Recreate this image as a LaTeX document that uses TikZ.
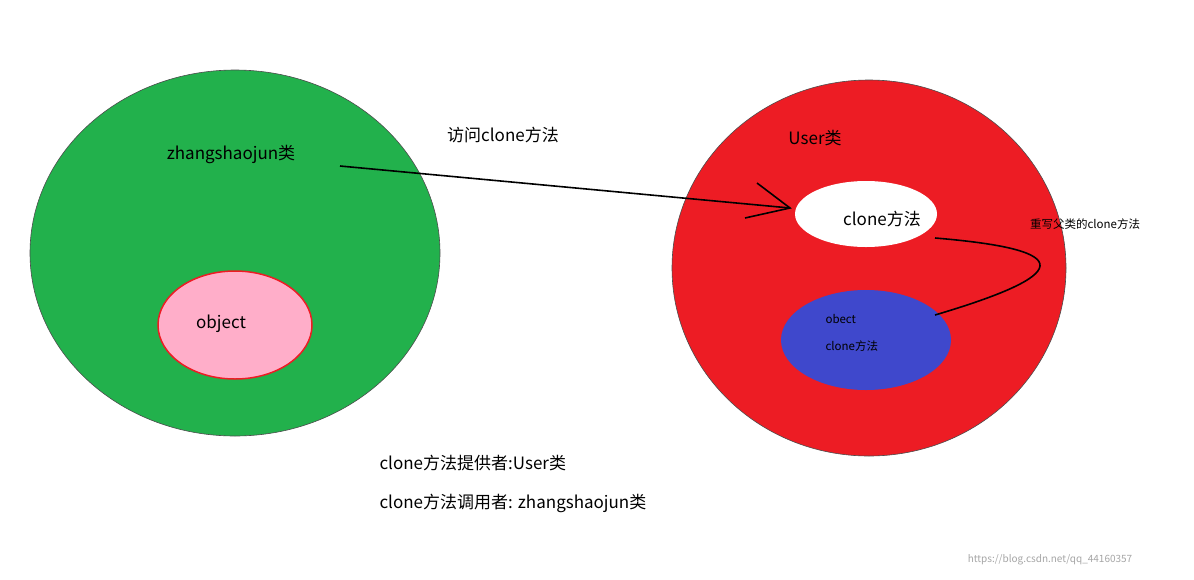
\documentclass[tikz,border=0pt]{standalone}
\usepackage{fontspec}
\setmainfont{Noto Sans CJK SC}
\begin{document}
\begin{tikzpicture}[x=1pt,y=-1pt,
  big/.style={font=\fontsize{17}{20}\selectfont},
  small/.style={font=\fontsize{11.5}{14}\selectfont}]
\useasboundingbox[fill=white] (0,0) rectangle (1194,579);
\fill[fill={rgb,255:red,34;green,177;blue,76}, draw=black!70, line width=0.6pt] (235,253) ellipse [x radius=205, y radius=183];
\fill[fill={rgb,255:red,255;green,174;blue,201}, draw={rgb,255:red,237;green,28;blue,36}, line width=1.5pt] (235,325) ellipse [x radius=77, y radius=54];
\fill[fill={rgb,255:red,237;green,28;blue,36}, draw=black!70, line width=0.6pt] (869,268) ellipse [x radius=197, y radius=188];
\fill[fill=white] (866,214) ellipse [x radius=71, y radius=33];
\fill[fill={rgb,255:red,63;green,72;blue,204}] (866,340) ellipse [x radius=85, y radius=50];
\node[big] (zs) at (231,154) {zhangshaojun类};
\node[big] (fw) at (503,135) {访问clone方法};
\node[big] (us) at (815,138) {User类};
\node[big] (cl) at (882,219) {clone方法};
\node[small] (cx) at (1085,224) {重写父类的clone方法};
\node[big] (ob) at (221,324) {object};
\node[small,anchor=west] (o2) at (822,319) {obect};
\node[small,anchor=west] (o3) at (822,346) {clone方法};
\node[big,anchor=west] (b1) at (376,463) {clone方法提供者:User类};
\node[big,anchor=west] (b2) at (376,503) {clone方法调用者: zhangshaojun类};
\node[font=\fontsize{10}{12}\selectfont, text=black!35] (wm) at (1050,560) {https://blog.csdn.net/qq\_44160357};
\coordinate (a0) at (340,166);
\coordinate (a1) at (790,208);
\draw[line width=1.6pt] (a0) -- (a1);
\draw[line width=1.6pt] (757,183) -- (a1) -- (745,218);
\coordinate (c0) at (935,238);
\coordinate (c1) at (935,315);
\draw[line width=1.6pt] (c0) .. controls (1080,250) and (1070,275) .. (c1);
\end{tikzpicture}
\end{document}
